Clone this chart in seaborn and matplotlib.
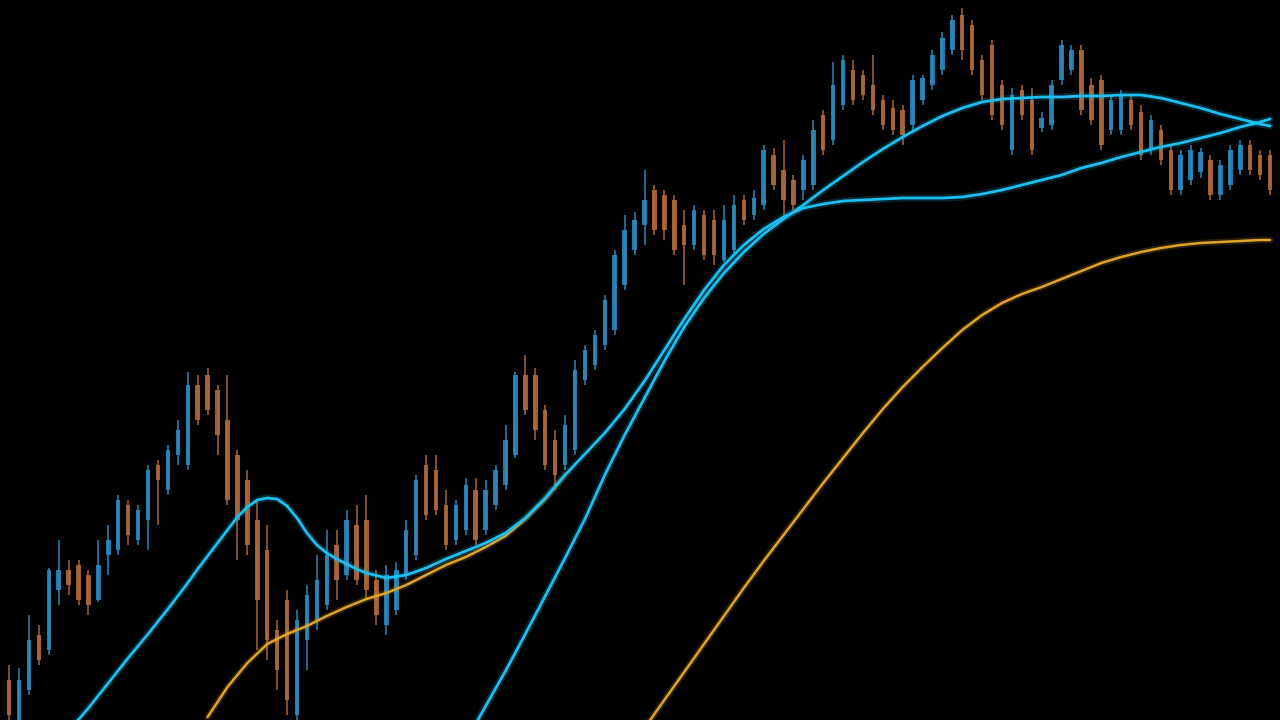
"""Candlestick chart with three moving averages on a black background."""

import numpy as np
import pandas as pd
import seaborn as sns
import matplotlib.pyplot as plt

# candle data (price units), one entry per session
opens = [
    40, 0, 30, 85, 70, 130, 150, 155, 145, 120, 165, 170, 215, 180, 200, 255,
    230, 265, 255, 335, 345, 330, 300, 265, 240, 200, 170, 90, 120, 5, 80, 100,
    115, 175, 145, 195, 200, 140, 95, 110, 145, 165, 255, 250, 215, 180, 190, 230,
    190, 215, 235, 265, 345, 345, 310, 280, 255, 270, 340, 355, 375, 390, 435, 470,
    495, 530, 525, 520, 495, 475, 505, 500, 460, 470, 520, 505, 515, 565, 550, 540,
    530, 535, 605, 580, 615, 650, 645, 635, 620, 612, 610, 595, 620, 635, 650, 670,
    705, 695, 660, 675, 635, 570, 630, 620, 592, 595, 640, 650, 670, 635, 640, 590,
    590, 620, 608, 570, 590, 570, 530, 540, 548, 560, 525, 535, 550, 575, 565, 565,
]
highs = [
    55, 52, 105, 95, 152, 180, 160, 160, 150, 180, 195, 225, 220, 215, 255, 260,
    275, 300, 348, 345, 352, 335, 345, 270, 250, 220, 195, 100, 130, 110, 135, 165,
    190, 190, 210, 215, 225, 150, 155, 158, 200, 245, 265, 265, 230, 220, 242, 242,
    240, 255, 295, 348, 365, 352, 315, 290, 305, 360, 375, 390, 425, 470, 505, 508,
    550, 535, 530, 525, 510, 515, 510, 510, 515, 525, 525, 530, 575, 572, 580, 545,
    565, 600, 610, 658, 665, 660, 650, 665, 625, 620, 615, 645, 645, 670, 688, 705,
    712, 700, 665, 680, 640, 632, 635, 632, 608, 640, 680, 675, 675, 642, 645, 625,
    630, 625, 615, 605, 595, 575, 570, 575, 572, 565, 560, 575, 580, 580, 570, 570,
]
lows = [
    -10, -8, 25, 55, 65, 115, 125, 115, 105, 118, 145, 165, 175, 175, 170, 195,
    225, 255, 250, 295, 305, 265, 215, 160, 165, 70, 60, 30, 5, 0, 50, 90,
    110, 120, 140, 135, 120, 95, 85, 105, 140, 160, 200, 205, 170, 175, 185, 175,
    185, 210, 230, 262, 305, 280, 250, 230, 250, 265, 335, 350, 370, 385, 430, 465,
    475, 485, 480, 465, 435, 470, 460, 455, 458, 465, 495, 500, 510, 530, 505, 510,
    520, 530, 565, 575, 610, 615, 620, 605, 590, 585, 575, 590, 615, 630, 645, 665,
    660, 645, 620, 600, 590, 565, 600, 565, 588, 590, 635, 645, 605, 595, 570, 585,
    585, 590, 560, 565, 555, 525, 525, 535, 542, 520, 520, 530, 545, 545, 540, 525,
]
closes = [
    5, 40, 80, 60, 150, 150, 135, 120, 115, 155, 180, 220, 185, 210, 250, 240,
    270, 290, 335, 300, 310, 285, 220, 200, 175, 120, 80, 50, 20, 100, 125, 140,
    165, 140, 200, 140, 130, 105, 145, 150, 190, 240, 205, 210, 175, 215, 235, 180,
    230, 250, 280, 345, 310, 290, 255, 245, 295, 350, 370, 385, 420, 465, 490, 500,
    520, 490, 490, 470, 475, 510, 465, 465, 500, 515, 500, 522, 570, 535, 520, 515,
    560, 590, 570, 635, 660, 620, 625, 610, 595, 590, 585, 640, 642, 665, 682, 700,
    670, 650, 625, 605, 595, 625, 605, 570, 602, 635, 675, 670, 610, 600, 575, 620,
    625, 595, 565, 600, 560, 530, 565, 570, 568, 525, 555, 570, 575, 550, 545, 530,
]

# moving averages (session index, value)
ma_a_idx = (list(range(6, 18, 2)) + list(range(18, 37))
            + list(range(38, 127, 2)) + [127])
ma_a = [
    -11, 12, 37, 62, 86, 111,
    137, 151, 164, 177, 190, 203, 213, 220, 222, 221, 214, 202, 187, 175, 167, 161,
    156, 151, 147,
    142, 145, 152, 161, 169, 177, 187, 202, 222, 245, 266, 287, 311, 339, 370, 401,
    430, 455, 475, 491, 503, 512, 516, 519, 520, 521, 522, 522, 522, 523, 526, 530,
    535, 540, 545, 552, 557, 563, 568, 573, 577, 582, 587, 593, 598, 601,
]
ma_b_idx = list(range(46, 127, 2)) + [127]
ma_b = [
    -22, 14, 49, 86, 124, 162, 201, 245, 285, 322, 359, 393, 422, 447, 468, 486,
    501, 515, 530, 544, 558, 571, 583, 594, 604, 612, 618, 621, 622, 623, 623, 624,
    624, 625, 625, 622, 617, 612, 606, 601, 596, 594,
]
ma_c_idx = list(range(20, 57, 2))
ma_c = [3, 33, 57, 76, 86, 94, 104, 113, 121, 127, 135, 145, 155, 163, 173, 184, 201, 221, 245]
ma_d_idx = list(range(64, 127, 2)) + [127]
ma_d = [
    -8, 20, 48, 76, 104, 132, 159, 185, 211, 237, 262, 287, 311, 333, 353, 372,
    390, 405, 417, 426, 433, 441, 449, 457, 463, 468, 472, 475, 477, 478, 479, 480, 480,
]

UP = "#2b8cc0"
DOWN = "#b06a3a"
CYAN = "#1cbff0"
GOLD = "#dfa427"

sns.set_style("dark")
fig = plt.figure(figsize=(12.8, 7.2), dpi=100, facecolor="black")
ax = fig.add_axes([0, 0, 1, 1])
ax.set_facecolor("black")

df = pd.DataFrame({"open": opens, "high": highs, "low": lows, "close": closes})
df["idx"] = np.arange(len(df))
up = df["close"] >= df["open"]
colors = np.where(up, UP, DOWN)

# wicks and bodies
ax.vlines(df["idx"], df["low"], df["high"], colors=colors, linewidth=1.4, alpha=0.75)
body_bottom = df[["open", "close"]].min(axis=1)
body_height = (df["close"] - df["open"]).abs().clip(lower=3)
ax.bar(df["idx"], body_height, bottom=body_bottom, width=0.45, color=colors, alpha=0.9, linewidth=0)

# moving averages, with a faint glow underneath
lines = [
    (ma_c_idx, ma_c, GOLD, 1.8),
    (ma_d_idx, ma_d, GOLD, 1.8),
    (ma_b_idx, ma_b, CYAN, 2.0),
    (ma_a_idx, ma_a, CYAN, 2.0),
]
for xs, ys, color, lw in lines:
    sns.lineplot(x=xs, y=ys, ax=ax, color=color, linewidth=lw * 2.6, alpha=0.18,
                 sort=False, estimator=None, solid_joinstyle="round")
    sns.lineplot(x=xs, y=ys, ax=ax, color=color, linewidth=lw,
                 sort=False, estimator=None, solid_joinstyle="round")

ax.set_xlim(-0.91, 128.0)
ax.set_ylim(0, 720)
ax.axis("off")

fig.savefig("out.png", dpi=100, facecolor="black")
